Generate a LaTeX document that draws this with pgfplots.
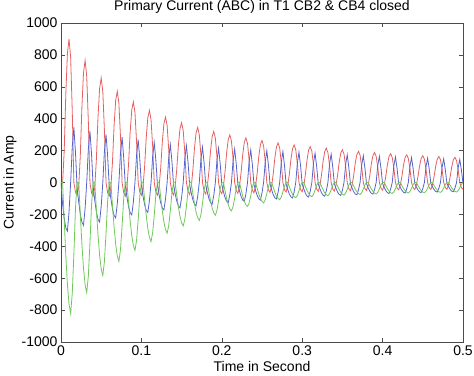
\documentclass[border=0pt]{standalone}
\usepackage{fontspec}
\setmainfont{Liberation Sans}
\usepackage{pgfplots}
\usepackage{pgfplotstable}
\pgfplotsset{compat=1.18}
\definecolor{cA}{RGB}{232,95,95}
\definecolor{cB}{RGB}{85,100,205}
\definecolor{cC}{RGB}{110,200,90}
\pgfplotstableread{
t a b c
0.000 0 0 0
0.002 0 -137 0
0.004 198 -226 -238
0.006 558 -284 -459
0.008 810 -305 -640
0.010 900 -183 -763
0.012 783 0 -820
0.014 450 224 -697
0.016 0 345 -451
0.018 -60 190 -164
0.020 -80 -27 0
0.022 -28 -121 0
0.024 168 -198 -200
0.026 474 -249 -386
0.028 689 -268 -538
0.030 765 -161 -642
0.032 666 0 -690
0.034 383 209 -587
0.036 0 322 -380
0.038 -64 177 -138
0.040 -85 -25 0
0.042 -30 -112 0
0.044 144 -184 -169
0.046 406 -231 -326
0.048 590 -248 -455
0.050 655 -149 -542
0.052 570 0 -583
0.054 328 196 -496
0.056 0 301 -321
0.058 -64 166 -117
0.060 -85 -22 0
0.062 -30 -100 0
0.064 126 -164 -144
0.066 355 -206 -277
0.068 515 -222 -386
0.070 572 -133 -460
0.072 498 0 -495
0.074 286 185 -421
0.076 0 284 -272
0.078 -64 156 -99
0.080 -85 -20 0
0.082 -30 -91 0
0.084 111 -150 -124
0.086 313 -189 -239
0.088 455 -203 -332
0.090 505 -122 -396
0.092 439 0 -426
0.094 253 174 -362
0.096 0 268 -234
0.098 -60 147 -85
0.100 -80 -19 0
0.102 -28 -85 0
0.104 99 -139 -107
0.106 280 -175 -207
0.108 407 -188 -289
0.110 452 -113 -344
0.112 393 0 -370
0.114 226 163 -315
0.116 0 250 -204
0.118 -60 138 -74
0.120 -80 -17 0
0.122 -28 -77 0
0.124 90 -127 -92
0.126 254 -160 -178
0.128 369 -172 -248
0.130 410 -103 -296
0.132 357 0 -318
0.134 205 155 -270
0.136 0 238 -175
0.138 -59 131 -64
0.140 -78 -16 0
0.142 -27 -71 0
0.144 83 -117 -79
0.146 233 -147 -152
0.148 338 -158 -212
0.150 375 -95 -253
0.152 326 0 -272
0.154 188 150 -231
0.156 0 230 -150
0.158 -56 127 -54
0.160 -75 -15 0
0.162 -26 -66 0
0.164 76 -108 -69
0.166 214 -136 -133
0.168 311 -146 -186
0.170 345 -88 -221
0.172 300 0 -238
0.174 173 144 -202
0.176 0 221 -131
0.178 -54 122 -48
0.180 -72 -14 0
0.182 -25 -61 0
0.184 70 -101 -59
0.186 198 -126 -115
0.188 288 -136 -160
0.190 320 -82 -191
0.192 278 0 -205
0.194 160 140 -174
0.196 0 215 -113
0.198 -53 118 -41
0.200 -70 -13 0
0.202 -25 -57 0
0.204 66 -94 -52
0.206 185 -118 -100
0.208 269 -127 -139
0.210 299 -76 -166
0.212 260 0 -178
0.214 150 136 -151
0.216 0 209 -98
0.218 -51 115 -36
0.220 -68 -12 0
0.222 -24 -53 0
0.224 62 -87 -44
0.226 174 -110 -84
0.228 252 -118 -117
0.230 280 -71 -140
0.232 244 0 -150
0.234 140 133 -128
0.236 0 204 -83
0.238 -49 112 -30
0.240 -65 -11 0
0.242 -23 -50 0
0.244 58 -81 -37
0.246 163 -102 -72
0.248 237 -110 -100
0.250 263 -66 -119
0.252 229 0 -128
0.254 132 129 -109
0.256 0 199 -70
0.258 -47 109 -26
0.260 -62 -10 0
0.262 -22 -46 0
0.264 55 -76 -31
0.266 154 -96 -60
0.268 223 -103 -84
0.270 248 -62 -100
0.272 216 0 -108
0.274 124 126 -92
0.276 0 194 -59
0.278 -45 107 -22
0.280 -60 -10 0
0.282 -21 -44 0
0.284 52 -72 -28
0.286 146 -90 -53
0.288 212 -97 -74
0.290 236 -58 -88
0.292 205 0 -95
0.294 118 123 -81
0.296 0 189 -52
0.298 -44 104 -19
0.300 -58 -9 0
0.302 -20 -41 0
0.304 50 -67 -26
0.306 140 -85 -49
0.308 203 -91 -69
0.310 225 -55 -82
0.312 196 0 -88
0.314 113 120 -75
0.316 0 184 -48
0.318 -42 101 -18
0.320 -56 -9 0
0.322 -20 -39 0
0.324 47 -64 -24
0.326 133 -80 -46
0.328 194 -86 -65
0.330 215 -52 -77
0.332 187 0 -83
0.334 108 116 -71
0.336 0 178 -46
0.338 -41 98 -17
0.340 -54 -8 0
0.342 -19 -36 0
0.344 45 -60 -23
0.346 127 -75 -44
0.348 185 -81 -62
0.350 205 -49 -73
0.352 178 0 -79
0.354 103 112 -67
0.356 0 173 -43
0.358 -39 95 -16
0.360 -52 -8 0
0.362 -18 -35 0
0.364 43 -57 -22
0.366 122 -72 -42
0.368 176 -77 -59
0.370 196 -46 -70
0.372 171 0 -75
0.374 98 109 -64
0.376 0 168 -41
0.378 -38 92 -15
0.380 -50 -7 0
0.382 -18 -33 0
0.384 41 -54 -21
0.386 117 -68 -40
0.388 169 -73 -56
0.390 188 -44 -67
0.392 164 0 -72
0.394 94 107 -61
0.396 0 164 -40
0.398 -36 90 -14
0.400 -48 -7 0
0.402 -17 -31 0
0.404 40 -51 -20
0.406 112 -64 -39
0.408 163 -69 -54
0.410 181 -41 -64
0.412 157 0 -69
0.414 91 104 -59
0.416 0 160 -38
0.418 -35 88 -14
0.420 -46 -7 0
0.422 -16 -30 0
0.424 38 -49 -19
0.426 108 -61 -37
0.428 157 -66 -51
0.430 174 -40 -61
0.432 151 0 -66
0.434 87 101 -56
0.436 0 156 -36
0.438 -34 86 -13
0.440 -45 -6 0
0.442 -16 -28 0
0.444 37 -47 -19
0.446 104 -59 -36
0.448 151 -63 -50
0.450 168 -38 -60
0.452 146 0 -64
0.454 84 99 -54
0.456 0 152 -35
0.458 -33 84 -13
0.460 -44 -6 0
0.462 -15 -27 0
0.464 36 -44 -18
0.466 101 -56 -35
0.468 147 -60 -48
0.470 163 -36 -58
0.472 142 0 -62
0.474 82 96 -53
0.476 0 148 -34
0.478 -32 81 -12
0.480 -43 -6 0
0.482 -15 -26 0
0.484 35 -43 -17
0.486 98 -54 -34
0.488 142 -58 -47
0.490 158 -35 -56
0.492 137 0 -60
0.494 79 94 -51
0.496 0 144 -33
0.498 -32 79 -12
0.500 -42 -6 0
}\currdata

\begin{document}
\begin{tikzpicture}
\begin{axis}[
  scale only axis,
  width=402pt, height=319pt,
  xmin=0, xmax=0.5, ymin=-1000, ymax=1000,
  xtick={0,0.1,0.2,0.3,0.4,0.5},
  xticklabels={0,0.1,0.2,0.3,0.4,0.5},
  ytick={-1000,-800,-600,-400,-200,0,200,400,600,800,1000},
  yticklabels={-1000,-800,-600,-400,-200,0,200,400,600,800,1000},
  tick align=inside,
  major tick length=4pt,
  axis line style={black!70, line width=0.6pt},
  tick style={black!70, line width=0.5pt},
  tick label style={font=\fontsize{14}{16}\selectfont},
  title={Primary Current (ABC) in T1 CB2 \& CB4 closed},
  title style={font=\fontsize{14}{16}\selectfont, at={(axis description cs:0.5,1)}, anchor=base, yshift=6.5pt, inner sep=0.5pt},
  xlabel={Time in Second},
  xlabel style={font=\fontsize{14}{16}\selectfont, at={(axis description cs:0.5,0)}, anchor=center, yshift=-24pt},
  ylabel={Current in Amp},
  ylabel style={font=\fontsize{14}{16}\selectfont, at={(axis description cs:0,0.5)}, anchor=center, rotate=0, yshift=51pt},
]
\addplot[cA, line width=0.8pt] table[x=t, y=a] {\currdata};
\addplot[cB, line width=0.8pt] table[x=t, y=b] {\currdata};
\addplot[cC, line width=0.8pt] table[x=t, y=c] {\currdata};
\end{axis}
\pgfresetboundingbox
\path (-61pt,-33pt) rectangle (413pt,342pt);
\end{tikzpicture}
\end{document}
